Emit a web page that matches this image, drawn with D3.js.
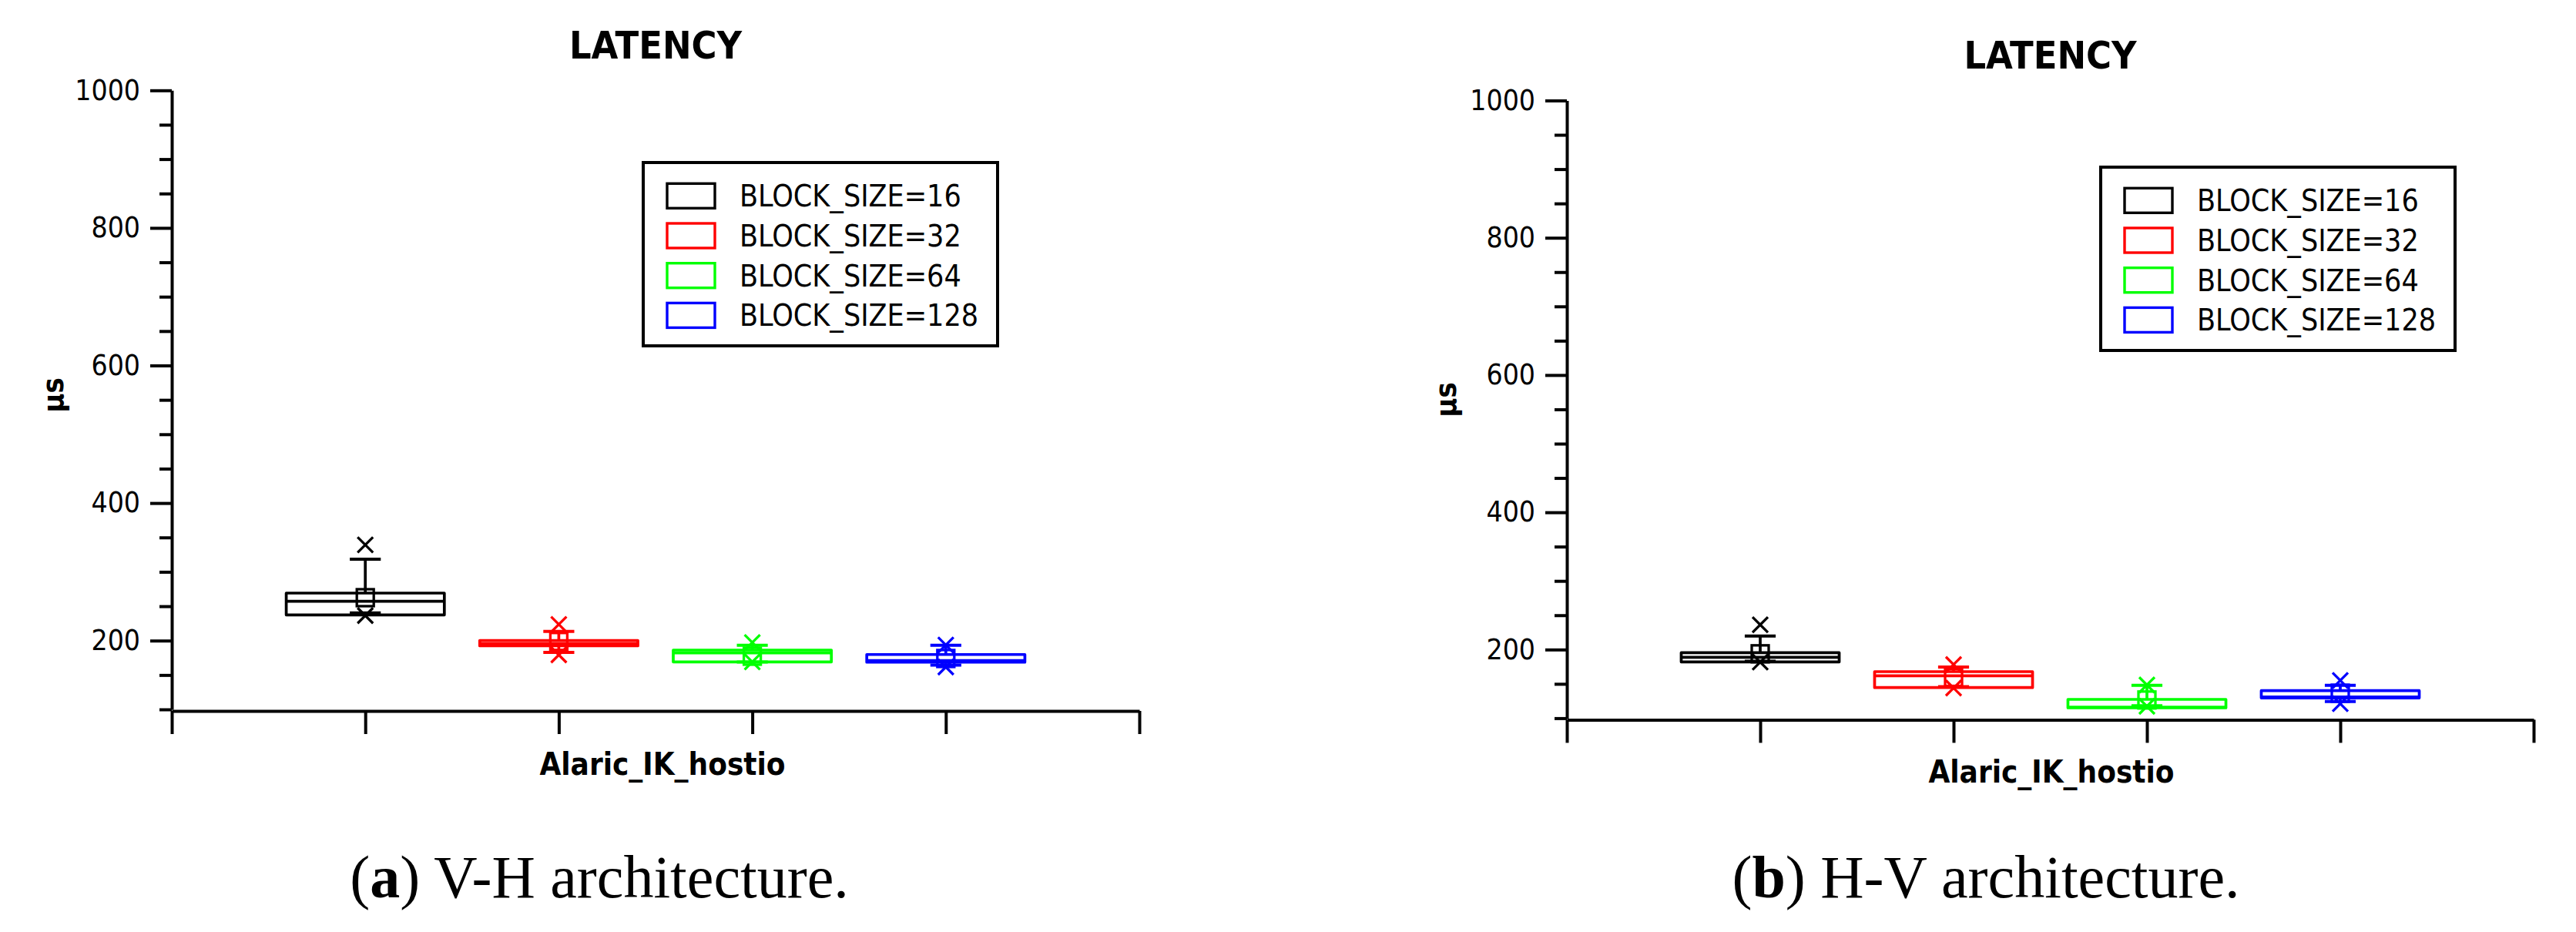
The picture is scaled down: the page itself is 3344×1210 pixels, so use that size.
<!DOCTYPE html>
<html>
<head>
<meta charset="utf-8">
<script src="https://cdn.jsdelivr.net/npm/d3@7"></script>
<style>
  html, body { margin: 0; padding: 0; background: #ffffff; }
  svg { display: block; }
</style>
</head>
<body>
<svg id="chart" width="3344" height="1210"></svg>
<script>
// ---------------- data ----------------
const categories = ["BLOCK_SIZE=16", "BLOCK_SIZE=32", "BLOCK_SIZE=64", "BLOCK_SIZE=128"];
const seriesColors = ["#000000", "#ff0000", "#00ff00", "#0000ff"];
const majorTicks = [200, 400, 600, 800, 1000];
const minorTicks = [100, 150, 250, 300, 350, 450, 500, 550, 650, 700, 750, 850, 900, 950];
const xTickPositions = [0, 1, 2, 3, 4, 5];
const chartTitle = "LATENCY";
const xAxisLabel = "Alaric_IK_hostio";
const yAxisLabel = "μs";

// (a) V-H architecture
const vhQ1       = [237.4, 192.4, 169.1, 168.6];
const vhMedian   = [257.1, 196.0, 182.1, 171.0];
const vhQ3       = [269.1, 200.2, 186.2, 179.8];
const vhWhiskLo  = [240.3, 183.0, 169.0, 164.5];
const vhWhiskHi  = [318.5, 213.3, 193.3, 193.3];
const vhMin      = [236.3, 179.2, 169.1, 161.6];
const vhMax      = [339.3, 223.6, 197.2, 193.7];
const vhMean     = [262.4, 198.8, 177.3, 174.0];

// (b) H-V architecture
const hvQ1       = [182.0, 144.6, 115.1, 129.6];
const hvMedian   = [188.8, 161.8, 116.0, 131.0];
const hvQ3       = [195.5, 167.8, 127.4, 140.1];
const hvWhiskLo  = [183.0, 146.0, 118.1, 124.4];
const hvWhiskHi  = [219.8, 174.5, 147.9, 147.9];
const hvMin      = [181.6, 143.9, 117.3, 121.0];
const hvMax      = [236.2, 178.2, 148.4, 155.1];
const hvMean     = [193.8, 159.4, 126.5, 136.4];

// ---------------- layout ----------------
const SANS = '"DejaVu Sans Condensed", "DejaVu Sans", sans-serif';
const SERIF = '"Liberation Serif", "DejaVu Serif", serif';

const panels = [
  { x0: 223, x1: 1479, yTop: 117.3, yBottom: 921,
    legendX: 835, legendY: 211, titleY: 76,
    xLabelX: 860, xLabelY: 1006, yLabelX: 82, yLabelY: 513,
    captionX: 778, captionY: 1165, tag: "a", captionRest: " V-H architecture.",
    data: { q1: vhQ1, med: vhMedian, q3: vhQ3, wlo: vhWhiskLo, whi: vhWhiskHi, min: vhMin, max: vhMax, mean: vhMean } },
  { x0: 2034, x1: 3289, yTop: 130.5, yBottom: 932.4,
    legendX: 2727, legendY: 217, titleY: 89,
    xLabelX: 2663, xLabelY: 1016, yLabelX: 1890, yLabelY: 519,
    captionX: 2578, captionY: 1165, tag: "b", captionRest: " H-V architecture.",
    data: { q1: hvQ1, med: hvMedian, q3: hvQ3, wlo: hvWhiskLo, whi: hvWhiskHi, min: hvMin, max: hvMax, mean: hvMean } }
];

const svg = d3.select("#chart");
svg.append("rect").attr("width", 3344).attr("height", 1210).attr("fill", "#ffffff");

function drawPanel(p) {
  const g = svg.append("g");
  const x = d3.scaleLinear().domain([0, 5]).range([p.x0, p.x1]);
  const y = d3.scaleLinear().domain([100, 1000]).range([p.yBottom, p.yTop]);

  // Title
  g.append("text")
    .attr("x", (p.x0 + p.x1) / 2).attr("y", p.titleY)
    .attr("text-anchor", "middle")
    .attr("font-family", SANS).attr("font-stretch", "condensed")
    .attr("font-weight", "bold").attr("font-size", 50)
    .text(chartTitle);

  // Y minor ticks
  const yMinor = g.append("g").attr("transform", `translate(${p.x0},0)`)
    .call(d3.axisLeft(y).tickValues(minorTicks).tickSize(16).tickFormat("").tickSizeOuter(0));
  yMinor.select(".domain").remove();

  // Y major ticks + domain
  const yMajor = g.append("g").attr("transform", `translate(${p.x0},0)`)
    .call(d3.axisLeft(y).tickValues(majorTicks).tickSize(28).tickPadding(13)
      .tickFormat(d3.format("d")).tickSizeOuter(0));
  yMajor.attr("font-family", SANS).attr("font-size", 37);
  yMajor.selectAll("text").attr("font-stretch", "condensed").attr("fill", "#000");

  // X axis
  g.append("g").attr("transform", `translate(0,${y(100) + 2})`)
    .call(d3.axisBottom(x).tickValues(xTickPositions).tickSize(30).tickFormat("").tickSizeOuter(0));

  g.selectAll(".domain, .tick line").attr("stroke", "#000").attr("stroke-width", 4);

  // Axis labels
  g.append("text")
    .attr("x", p.xLabelX).attr("y", p.xLabelY)
    .attr("text-anchor", "middle")
    .attr("font-family", SANS).attr("font-stretch", "condensed")
    .attr("font-weight", "bold").attr("font-size", 40)
    .text(xAxisLabel);

  g.append("text")
    .attr("transform", `translate(${p.yLabelX},${p.yLabelY}) rotate(-90)`)
    .attr("text-anchor", "middle")
    .attr("font-family", SANS)
    .attr("font-weight", "bold").attr("font-size", 38)
    .text(yAxisLabel);

  // Boxes
  const d = p.data;
  const boxHalf = 0.4085, capHalf = 0.08;
  categories.forEach((c, i) => {
    const col = seriesColors[i];
    const cx = i + 1;
    const bg = g.append("g").attr("stroke", col).attr("fill", "none");
    const sw = 3.7;
    // whiskers
    bg.append("line").attr("x1", x(cx)).attr("x2", x(cx))
      .attr("y1", y(d.q3[i])).attr("y2", y(d.whi[i])).attr("stroke-width", sw);
    bg.append("line").attr("x1", x(cx)).attr("x2", x(cx))
      .attr("y1", y(d.q1[i])).attr("y2", y(Math.min(d.wlo[i], d.q1[i]))).attr("stroke-width", sw);
    [d.whi[i], d.wlo[i]].forEach(v => {
      bg.append("line").attr("x1", x(cx - capHalf)).attr("x2", x(cx + capHalf))
        .attr("y1", y(v)).attr("y2", y(v)).attr("stroke-width", 4);
    });
    // box
    bg.append("rect")
      .attr("x", x(cx - boxHalf)).attr("width", x(cx + boxHalf) - x(cx - boxHalf))
      .attr("y", y(d.q3[i])).attr("height", y(d.q1[i]) - y(d.q3[i]))
      .attr("stroke-width", sw).attr("stroke-linejoin", "round");
    // median
    bg.append("line").attr("x1", x(cx - boxHalf)).attr("x2", x(cx + boxHalf))
      .attr("y1", y(d.med[i])).attr("y2", y(d.med[i])).attr("stroke-width", sw);
    // mean square
    bg.append("rect")
      .attr("x", x(cx) - 11).attr("y", y(d.mean[i]) - 11)
      .attr("width", 22).attr("height", 22).attr("stroke-width", 3.3);
    // X markers (min / max)
    [d.max[i], d.min[i]].forEach(v => {
      bg.append("path")
        .attr("transform", `translate(${x(cx)},${y(v)})`)
        .attr("d", "M-10,-10L10,10M-10,10L10,-10")
        .attr("stroke-width", 3.3);
    });
  });

  // Legend
  const lg = g.append("g").attr("transform", `translate(${p.legendX},${p.legendY})`);
  lg.append("rect").attr("x", 0).attr("y", 0).attr("width", 460).attr("height", 238)
    .attr("fill", "#fff").attr("stroke", "#000").attr("stroke-width", 4);
  categories.forEach((c, i) => {
    const ry = 27.3 + i * 51.7;
    lg.append("rect").attr("x", 31).attr("y", ry).attr("width", 62).attr("height", 32)
      .attr("fill", "none").attr("stroke", seriesColors[i]).attr("stroke-width", 3.4);
    lg.append("text").attr("x", 125).attr("y", ry + 30)
      .attr("font-family", SANS).attr("font-stretch", "condensed").attr("font-size", 39)
      .attr("fill", "#000")
      .text(c);
  });

  // Caption
  const cap = svg.append("text")
    .attr("x", p.captionX).attr("y", p.captionY)
    .attr("text-anchor", "middle")
    .attr("font-family", SERIF).attr("font-size", 78).attr("fill", "#000");
  cap.append("tspan").text("(");
  cap.append("tspan").attr("font-weight", "bold").text(p.tag);
  cap.append("tspan").text(")" + p.captionRest);
}

panels.forEach(drawPanel);
</script>
</body>
</html>
